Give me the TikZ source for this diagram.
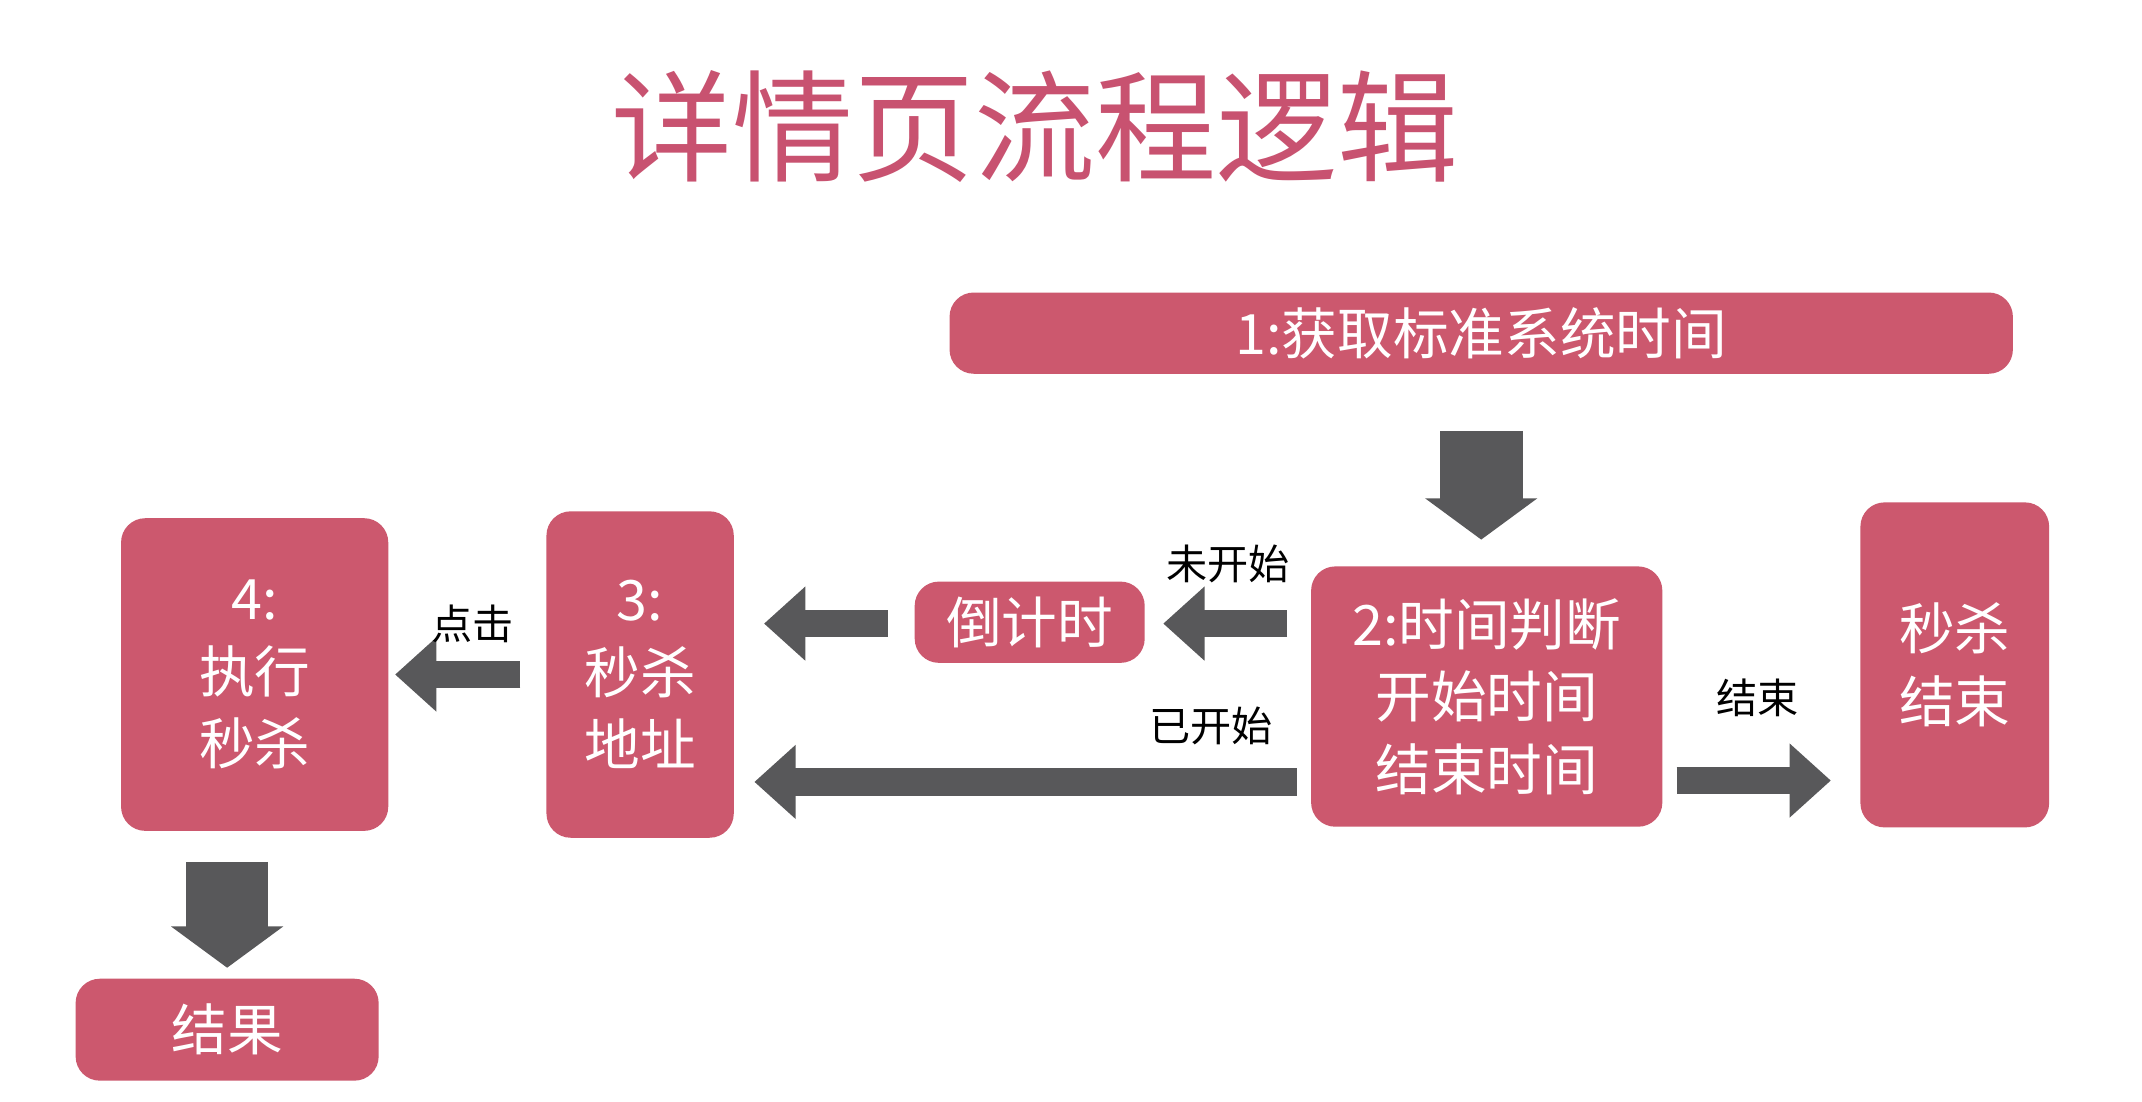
\documentclass[tikz,border=0pt]{standalone}
\usepackage{fontspec}
\setmainfont{Noto Sans CJK SC}
\usepackage{tikz}
\usetikzlibrary{arrows.meta}
\definecolor{boxred}{RGB}{204,88,110}
\definecolor{titlered}{RGB}{200,82,112}
\definecolor{arrowgray}{RGB}{88,88,90}

\tikzset{
  stepbox/.style={fill=boxred,rounded corners=5pt,text=white,align=center,
    inner sep=0pt,font=\fontsize{11.5}{15}\selectfont},
  fatarrow/.style={draw=arrowgray,line width=0.2cm,
    -{Triangle[width=0.52cm,length=0.3cm]}},
  lbl/.style={font=\fontsize{8.5}{10}\selectfont,text=black}
}

\begin{document}
\begin{tikzpicture}[x=0.01cm,y=-0.01cm]

    \useasboundingbox[fill=white] (0,0) rectangle (1556,800);

    \node[text=titlered,font=\fontsize{25}{30}\selectfont] (title) at (752,92) {详情页流程逻辑};

    % boxes
    \node[stepbox,minimum width=7.72cm,minimum height=0.59cm] (sys) at (1076,242) {1:获取标准系统时间};
    \node[stepbox,minimum width=2.55cm,minimum height=1.89cm] (judge) at (1080,506) {2:时间判断\\开始时间\\结束时间};
    \node[stepbox,minimum width=1.37cm,minimum height=2.36cm] (over) at (1420,483) {秒杀\\结束};
    \node[stepbox,minimum width=1.67cm,minimum height=0.59cm] (count) at (748,452) {倒计时};
    \node[stepbox,minimum width=1.36cm,minimum height=2.37cm] (addr) at (465,490) {3:\\秒杀\\地址};
    \node[stepbox,minimum width=1.94cm,minimum height=2.27cm] (exec) at (185,490) {4:\\执行\\秒杀};
    \node[stepbox,minimum width=2.2cm,minimum height=0.74cm] (res) at (165,748) {结果};

    % arrow ends
    \coordinate (a1) at (1076,313);
    \coordinate (a2) at (1076,392);
    \coordinate (b1) at (1218,567);
    \coordinate (b2) at (1330,567);
    \coordinate (c1) at (935,453);
    \coordinate (c2) at (845,453);
    \coordinate (d1) at (645,453);
    \coordinate (d2) at (555,453);
    \coordinate (e1) at (942,568);
    \coordinate (e2) at (548,568);
    \coordinate (f1) at (378,490);
    \coordinate (f2) at (287,490);
    \coordinate (g1) at (165,626);
    \coordinate (g2) at (165,703);

    \draw[fatarrow,line width=0.6cm,-{Triangle[width=0.8cm,length=0.3cm]}] (a1) -- (a2);
    \draw[fatarrow] (b1) -- (b2);
    \draw[fatarrow] (c1) -- (c2);
    \draw[fatarrow] (d1) -- (d2);
    \draw[fatarrow] (e1) -- (e2);
    \draw[fatarrow] (f1) -- (f2);
    \draw[fatarrow,line width=0.6cm,-{Triangle[width=0.8cm,length=0.3cm]}] (g1) -- (g2);

    % labels
    \node[lbl] (lend) at (1277,507) {结束};
    \node[lbl] (lnot) at (892,410) {未开始};
    \node[lbl] (lgo) at (880,527) {已开始};
    \node[lbl] (lclick) at (343,453) {点击};

  \end{tikzpicture}
\end{document}
